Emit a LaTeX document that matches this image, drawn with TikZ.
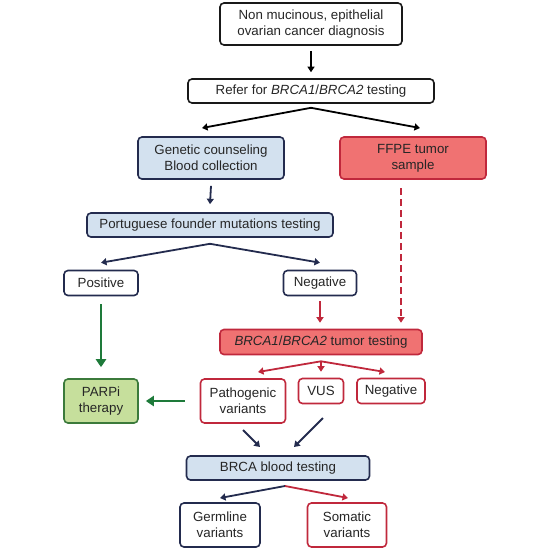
\documentclass[tikz,border=0pt]{standalone}
\usepackage{fontspec}
\setmainfont{Liberation Sans}
\usetikzlibrary{arrows.meta}
\definecolor{navy}{HTML}{232B4E}
\definecolor{dred}{HTML}{C0283C}
\definecolor{rfill}{HTML}{F07272}
\definecolor{bfill}{HTML}{D3E1EF}
\definecolor{gfill}{HTML}{C6DF9C}
\definecolor{gborder}{HTML}{3B7A3B}
\definecolor{garrow}{HTML}{1E7A3A}
\tikzset{
  box/.style={draw, rounded corners=4pt, line width=1.6pt, align=center, inner sep=0pt, font=\fontsize{13.3}{16}\selectfont, text=black!85},
  wbox/.style={box, draw=black!90, fill=white},
  bbox/.style={box, draw=navy, fill=bfill},
  rbox/.style={box, draw=dred, fill=rfill},
  rwbox/.style={box, draw=dred, fill=white},
  nwbox/.style={box, draw=navy, fill=white},
  gbox/.style={box, draw=gborder, fill=gfill},
  arr/.style={line width=1.8pt, -{Triangle[length=5.5pt,width=7pt]}},
  karr/.style={arr, draw=black},
  narr/.style={arr, draw=navy},
  rarr/.style={arr, draw=dred},
  garr/.style={line width=2.8pt, draw=garrow, -{Triangle[length=8pt,width=10pt]}},
}
\begin{document}
\begin{tikzpicture}[x=1pt,y=-1pt]
\useasboundingbox (0,0) rectangle (550,550);
\node[wbox, minimum width=182pt, minimum height=42pt] (diag) at (311,24) {Non mucinous, epithelial\\ovarian cancer diagnosis};
\node[wbox, minimum width=246pt, minimum height=24pt] (refer) at (311,91) {Refer for \textit{BRCA1}/\textit{BRCA2} testing};
\node[bbox, minimum width=146pt, minimum height=42pt] (gen) at (211,158) {Genetic counseling\\Blood collection};
\node[rbox, minimum width=146pt, minimum height=42pt] (ffpe) at (413,158) {FFPE tumor\\sample};
\node[bbox, minimum width=246pt, minimum height=24pt] (port) at (210,225) {Portuguese founder mutations testing};
\node[wbox, draw=navy, minimum width=74pt, minimum height=25pt] (pos) at (101,283) {Positive};
\node[wbox, draw=navy, minimum width=73pt, minimum height=25pt] (neg) at (320,283) {Negative};
\node[rbox, minimum width=202pt, minimum height=25pt] (tumor) at (321,342) {\textit{BRCA1}/\textit{BRCA2} tumor testing};
\node[gbox, minimum width=74pt, minimum height=44pt] (parp) at (101,401) {PARPi\\therapy};
\node[rwbox, minimum width=85pt, minimum height=44pt] (path) at (243,401) {Pathogenic\\variants};
\node[rwbox, minimum width=45pt, minimum height=25pt] (vus) at (321,391) {VUS};
\node[rwbox, minimum width=68pt, minimum height=25pt] (neg2) at (391,391) {Negative};
\node[bbox, minimum width=183pt, minimum height=24pt] (blood) at (278,468) {BRCA blood testing};
\node[nwbox, minimum width=80pt, minimum height=44pt] (germ) at (220,525) {Germline\\variants};
\node[rwbox, minimum width=79pt, minimum height=44pt] (soma) at (347,525) {Somatic\\variants};

\coordinate (ffpeDash) at (401,179);
\draw[karr] ([yshift=-5pt]diag.south) -- ([yshift=6pt]refer.north);
\draw[karr] ([yshift=-4pt]refer.south) -- (202,128);
\draw[karr] ([yshift=-4pt]refer.south) -- (420,128);
\draw[narr] ([yshift=-6pt]gen.south) -- ([yshift=8pt]port.north);
\draw[narr] ([yshift=-6pt]port.south) -- ([yshift=7pt]pos.north);
\draw[narr] ([yshift=-6pt]port.south) -- ([yshift=7pt]neg.north);
\draw[rarr] ([yshift=-5pt]neg.south) -- ([yshift=6pt]neg.south |- tumor.north);
\draw[rarr, dash pattern=on 7pt off 4pt] ([yshift=-9pt]ffpeDash) -- ([yshift=6pt]tumor.north -| ffpeDash);
\draw[garr] ([yshift=-8pt]pos.south) -- ([yshift=11pt]parp.north);
\draw[rarr] ([yshift=-6pt]tumor.south) -- (258,372);
\draw[rarr] ([yshift=-6pt]tumor.south) -- ([yshift=6pt]vus.north);
\draw[rarr] ([yshift=-6pt]tumor.south) -- (385,372);
\draw[garr] ([xshift=-15pt]path.west) -- ([xshift=7pt]parp.east);
\coordinate (bin1) at (260,447);
\coordinate (bin2) at (294,447);
\draw[narr] (243,430) -- (bin1);
\draw[narr] (323,418) -- (bin2);
\coordinate (bsplit) at (285,486);
\draw[narr] (bsplit) -- (220,498);
\draw[rarr] (bsplit) -- (348,498);
\end{tikzpicture}
\end{document}
